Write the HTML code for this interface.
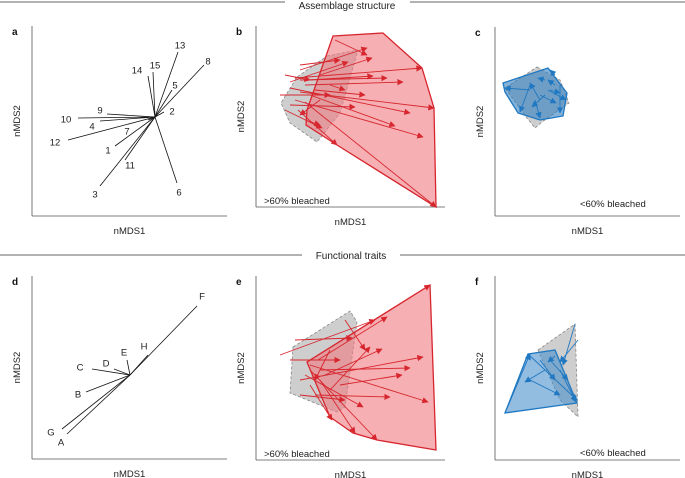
<!DOCTYPE html>
<html><head><meta charset="utf-8"><style>
html,body{margin:0;padding:0;background:#fff;}
svg{display:block;font-family:"Liberation Sans",sans-serif;}
</style></head><body>
<svg id="fig" width="685" height="478" viewBox="0 0 685 478">
<defs>
<marker id="ar" viewBox="0 0 10 10" refX="9" refY="5" markerWidth="7" markerHeight="7" orient="auto"><path d="M0,0 L10,5 L0,10 z" fill="#d7262e"/></marker>
<marker id="ab" viewBox="0 0 10 10" refX="9" refY="5" markerWidth="7" markerHeight="7" orient="auto"><path d="M0,0 L10,5 L0,10 z" fill="#1f78c1"/></marker>
</defs>
<g>
<line x1="0" y1="2" x2="285" y2="2" stroke="#333" stroke-width="0.8"/>
<line x1="410" y1="2" x2="685" y2="2" stroke="#333" stroke-width="0.8"/>
<text x="347" y="9" font-size="10" text-anchor="middle" fill="#222">Assemblage structure</text>
</g>
<g>
<line x1="0" y1="255" x2="302" y2="255" stroke="#333" stroke-width="0.8"/>
<line x1="400" y1="255" x2="685" y2="255" stroke="#333" stroke-width="0.8"/>
<text x="351" y="259" font-size="10" text-anchor="middle" fill="#222">Functional traits</text>
</g>
</svg>
<script>
// Panel a loadings (axis units)
const aNames=["1","2","3","4","5","6","7","8","9","10","11","12","13","14","15"];
const aOrigin=[123,99];
const aEndX=[83,132,68,68,140,145,116,172,75,46,93,36,146,116,121];
const aEndY=[70,104,30,95,126,33,96,151,102,98,56,76,164,140,144];
const aLabX=[76,140,63,60,143,147,95,176,68,34,98,23,148,105,123];
const aLabY=[65,104,21,89,130,23,84,154,105,96,50,73,170,145,150];
// Panel d loadings
const dNames=["F","H","E","D","C","B","G","A"];
const dOrigin=[98,84];
const dEndX=[165,116,95,82,60,54,30,35];
const dEndY=[153,104,99,90,90,67,30,25];
const dLabX=[170,112,92,74,48,46,19,29];
const dLabY=[162,112,106,95,91,64,26,16];
// Panel b
const bRedHullX=[77,127,166,178,180,81,50,51];
const bRedHullY=[171,174,139,99,0,62,82,97];
const bGrayHullX=[71,102,84,61,34,25,41];
const bGrayHullY=[151,157,94,65,84,104,130];
const bFromX=[44,39,54,34,44,49,59,39,44,64,34,42,49,29,64,24,34,54,79,29,49,74,44];
const bFromY=[115,107,112,119,127,122,117,129,137,132,125,97,105,97,107,112,102,127,167,132,87,122,142];
const bToX=[178,167,139,154,131,147,109,166,111,116,92,81,180,66,44,74,99,117,111,54,64,89,84];
const bToY=[99,70,81,94,129,125,112,139,159,149,145,62,0,79,92,112,100,131,152,127,82,117,147];
// Panel c
const cBlueHullX=[8,53,72,68,45,23,10];
const cBlueHullY=[133,148,123,100,96,103,124];
const cGrayHullX=[42,65,74,47,40,32,10];
const cGrayHullY=[149,136,113,94,88,98,128];
const cFromX=[45,35,60,50,35,55,45,53,60,40,65,50];
const cFromY=[116,126,131,121,131,126,121,126,141,116,131,136];
const cToX=[35,10,53,37,25,65,61,71,55,45,65,43];
const cToY=[133,128,136,109,104,123,113,116,146,98,103,138];
// Panel e
const eRedHullX=[174,180,121,97,74,51];
const eRedHullY=[175,10,20,27,43,98];
const eGrayHullX=[37,94,101,89,81,34];
const eGrayHullY=[113,149,138,53,48,67];
const eFromX=[54,44,64,62,59,49,54,64,51,74,69,84,39,54,24,34,74,89,44];
const eFromY=[95,80,90,100,65,85,90,80,98,70,85,75,120,75,105,100,110,140,65];
const eToX=[172,167,154,131,134,107,121,99,174,114,126,146,96,76,119,84,59,109,89];
const eToY=[58,103,92,143,63,53,20,27,175,113,111,85,122,40,140,100,80,110,60];
// Panel f
const fBlueHullX=[33,60,82,10];
const fBlueHullY=[106,110,57,47];
const fGrayHullX=[43,80,83,65];
const fGrayHullY=[110,136,43,60];
const fFromX=[80,83,33,10,45,55,65,50,35,60];
const fFromY=[136,120,106,47,100,100,90,90,80,104];
const fToX=[68,65,82,35,60,73,81,30,65,53];
const fToY=[95,98,60,106,80,80,58,78,65,98];

const NS="http://www.w3.org/2000/svg";
const svg=document.getElementById('fig');
function mk(tag,attrs,parent){const e=document.createElementNS(NS,tag);for(const k in attrs)e.setAttribute(k,attrs[k]);(parent||svg).appendChild(e);return e;}
function scale(x0,y0){return {x:v=>x0+v,y:v=>y0-v};}

const panels=[
 {id:"a",ax:32,ay:216,top:26,right:227},
 {id:"b",ax:256,ay:207,top:26,right:445,note:">60% bleached",nx:264,ny:204},
 {id:"c",ax:495,ay:216,top:27,right:680,note:"<60% bleached",nx:580,ny:207},
 {id:"d",ax:32,ay:459,top:276,right:227},
 {id:"e",ax:256,ay:460,top:276,right:445,note:">60% bleached",nx:264,ny:457},
 {id:"f",ax:495,ay:460,top:276,right:680,note:"<60% bleached",nx:580,ny:456}
];
const S={};
panels.forEach(p=>{
 const g=mk('g',{});
 
 
 S[p.id]=scale(p.ax,p.ay);
 const ya=mk('line',{x1:p.ax,y1:p.top,x2:p.ax,y2:p.ay,stroke:'#555','stroke-width':0.8},g);
 
 
 const xa=mk('line',{x1:p.ax,y1:p.ay,x2:p.right,y2:p.ay,stroke:'#555','stroke-width':0.8},g);
 
 
 const lt=mk('text',{x:p.ax-20,y:p.top+9,'font-size':10,'font-weight':'bold',fill:'#111'},g);lt.textContent=p.id;
 
 
 const cy=(p.top+p.ay)/2;
 const yt=mk('text',{x:p.ax-12,y:cy,'font-size':9.5,'text-anchor':'middle',fill:'#222',transform:`rotate(-90 ${p.ax-12} ${cy})`},g);yt.textContent='nMDS2';
 
 
 const xt=mk('text',{x:(p.ax+p.right)/2,y:p.ay+18,'font-size':9.5,'text-anchor':'middle',fill:'#222'},g);xt.textContent='nMDS1';
 
 
 p.g=g;
});
function loadings(id,names,o,ex,ey,lx,ly){
 const s=S[id],g=panels.find(p=>p.id===id).g;
 names.forEach((n,i)=>{
  const l=mk('line',{x1:s.x(o[0]),y1:s.y(o[1]),x2:s.x(ex[i]),y2:s.y(ey[i]),stroke:'#111','stroke-width':0.8},g);
  
  
  const t=mk('text',{x:s.x(lx[i]),y:s.y(ly[i]),'font-size':9.5,'text-anchor':'middle','dominant-baseline':'middle',fill:'#222'},g);t.textContent=n;
  
  
 });
}
loadings('a',aNames,aOrigin,aEndX,aEndY,aLabX,aLabY);
loadings('d',dNames,dOrigin,dEndX,dEndY,dLabX,dLabY);
function pts(s,xs,ys){return xs.map((v,i)=>s.x(v)+','+s.y(ys[i])).join(' ');}
function shift(id,gx,gy,hx,hy,fx,fy,tx,ty,col,fill,mark){
 const s=S[id],p=panels.find(q=>q.id===id),g=p.g;
 const gh=mk('polygon',{points:pts(s,gx,gy),fill:'#bdbdbd','fill-opacity':0.75,stroke:'#888','stroke-width':0.8,'stroke-dasharray':'3,2'},g);
 
 
 const hh=mk('polygon',{points:pts(s,hx,hy),fill:fill,'fill-opacity':0.6,stroke:col,'stroke-width':1.3},g);
 
 
 fx.forEach((v,i)=>{
  const a=mk('line',{x1:s.x(v),y1:s.y(fy[i]),x2:s.x(tx[i]),y2:s.y(ty[i]),stroke:col,'stroke-width':0.9,'marker-end':'url(#'+mark+')'},g);
  
  
 });
 const n=mk('text',{x:p.nx,y:p.ny,'font-size':9.5,fill:'#222'},g);n.textContent=p.note;
 
 
}
shift('b',bGrayHullX,bGrayHullY,bRedHullX,bRedHullY,bFromX,bFromY,bToX,bToY,'#d7262e','#f07a80','ar');
shift('c',cGrayHullX,cGrayHullY,cBlueHullX,cBlueHullY,cFromX,cFromY,cToX,cToY,'#1f78c1','#2f7fc0','ab');
shift('e',eGrayHullX,eGrayHullY,eRedHullX,eRedHullY,eFromX,eFromY,eToX,eToY,'#d7262e','#f07a80','ar');
shift('f',fGrayHullX,fGrayHullY,fBlueHullX,fBlueHullY,fFromX,fFromY,fToX,fToY,'#1f78c1','#4a90cc','ab');
</script>
</body></html>
